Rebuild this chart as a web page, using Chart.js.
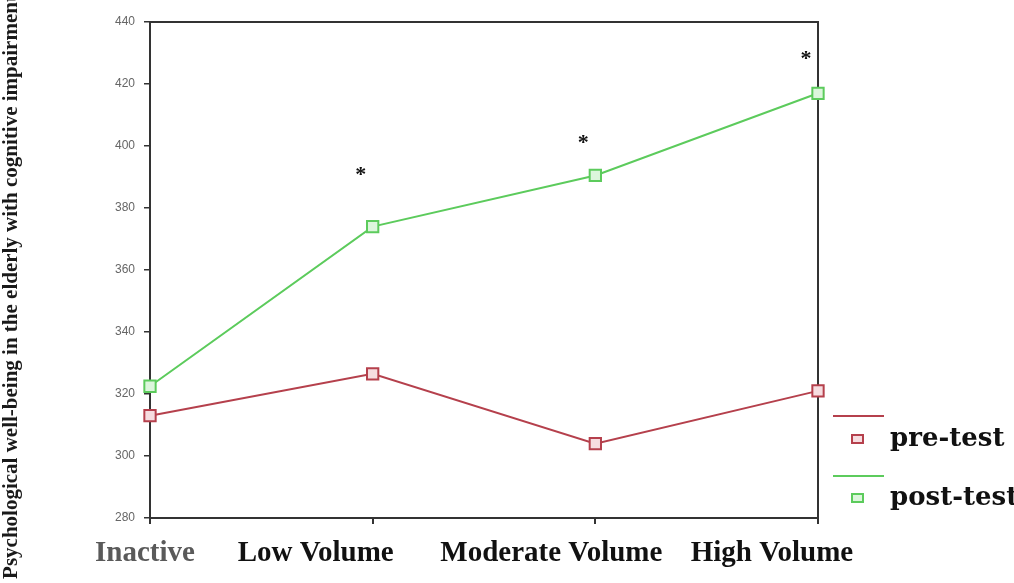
<!DOCTYPE html>
<html><head><meta charset="utf-8">
<script src="https://cdn.jsdelivr.net/npm/chart.js@4/dist/chart.umd.min.js"></script>
<style>
html,body{margin:0;padding:0;background:#fff;}
#wrap{position:relative;width:1014px;height:583px;overflow:hidden;background:#fff;}
canvas{position:absolute;left:0;top:0;}
</style></head><body>
<div id="wrap"><canvas id="c" width="1014" height="583"></canvas></div>
<script>
// ---- data ----
const categories = ['Inactive', 'Low Volume', 'Moderate Volume', 'High Volume'];
const preTest = [313, 326.5, 304, 321];
const postTest = [322.5, 374, 390.5, 417];
const yTickValues = [280, 300, 320, 340, 360, 380, 400, 420, 440];
const seriesNames = ['pre-test', 'post-test'];
const significanceMarks = ['', '*', '*', '*'];
const significanceLevel = [null, 392, 402.5, 429.5];
const yTitle = 'Psychological well-being in the elderly with cognitive impairment';

// ---- styling / layout constants ----
const RED = '#b5404c', RED_FILL = '#f6dde0';
const GREEN = '#5ccb5c', GREEN_FILL = '#dcf6dc';
const AXIS = '#333333';
const LABEL_DX = [-5, -57, -44, -46];
const LABEL_COLORS = ['#5a5a5a', '#111', '#111', '#111'];

const framePlugin = {
  id: 'frame',
  beforeDatasetsDraw(chart) {
    const {ctx, chartArea: a} = chart;
    ctx.save();
    ctx.strokeStyle = AXIS; ctx.lineWidth = 2;
    ctx.beginPath();
    ctx.moveTo(a.left, a.top); ctx.lineTo(a.right, a.top); ctx.lineTo(a.right, a.bottom);
    ctx.stroke();
    ctx.restore();
  }
};

const textPlugin = {
  id: 'texts',
  afterDraw(chart) {
    const {ctx} = chart;
    const xs = chart.scales.x, ys = chart.scales.y;
    ctx.save();
    // x category labels
    ctx.font = 'bold 29px "Liberation Serif"';
    ctx.textAlign = 'center'; ctx.textBaseline = 'middle';
    categories.forEach((c, i) => {
      ctx.fillStyle = LABEL_COLORS[i];
      ctx.fillText(c, xs.getPixelForValue(i) + LABEL_DX[i], 554);
    });
    // significance marks
    ctx.font = 'bold 22px "Liberation Serif"';
    ctx.fillStyle = '#111';
    significanceMarks.forEach((m, i) => {
      if (!m) return;
      ctx.fillText(m, xs.getPixelForValue(i) - 12, ys.getPixelForValue(significanceLevel[i]) + 5);
    });
    // y title
    ctx.translate(12, 287);
    ctx.rotate(-Math.PI / 2);
    ctx.font = 'bold 21px "Liberation Serif"';
    ctx.fillStyle = '#1a1a1a';
    ctx.fillText(yTitle, 0, 0);
    ctx.restore();

    // legend
    ctx.save();
    const items = [
      {name: seriesNames[0], color: RED, fill: RED_FILL, lineY: 416, markY: 439},
      {name: seriesNames[1], color: GREEN, fill: GREEN_FILL, lineY: 476, markY: 498}
    ];
    items.forEach(it => {
      ctx.strokeStyle = it.color; ctx.lineWidth = 2;
      ctx.beginPath(); ctx.moveTo(833, it.lineY); ctx.lineTo(884, it.lineY); ctx.stroke();
      ctx.fillStyle = it.fill;
      ctx.fillRect(852, it.markY - 4, 11, 8);
      ctx.strokeRect(852, it.markY - 4, 11, 8);
      ctx.fillStyle = '#111';
      ctx.font = 'bold 26px "DejaVu Serif"';
      ctx.textAlign = 'left'; ctx.textBaseline = 'middle';
      ctx.fillText(it.name, 890, it.markY);
    });
    ctx.restore();
  }
};

new Chart(document.getElementById('c'), {
  type: 'line',
  data: {
    labels: categories,
    datasets: [
      {label: seriesNames[0], data: preTest, borderColor: RED, backgroundColor: RED_FILL,
       pointBackgroundColor: RED_FILL, pointBorderColor: RED},
      {label: seriesNames[1], data: postTest, borderColor: GREEN, backgroundColor: GREEN_FILL,
       pointBackgroundColor: GREEN_FILL, pointBorderColor: GREEN}
    ]
  },
  options: {
    responsive: false, animation: false, devicePixelRatio: 1,
    layout: {padding: {left: 0, top: 22, right: 196, bottom: 0}},
    elements: {
      line: {borderWidth: 2, tension: 0},
      point: {pointStyle: 'rect', radius: 8, borderWidth: 2, hoverRadius: 8}
    },
    datasets: {line: {clip: false}},
    plugins: {legend: {display: false}, tooltip: {enabled: false}},
    scales: {
      x: {
        type: 'category', offset: false,
        grid: {drawOnChartArea: false, drawTicks: true, tickLength: 6, color: AXIS, lineWidth: 2},
        border: {display: true, color: AXIS, width: 2},
        ticks: {display: false},
        afterFit(s) { s.height = 65; }
      },
      y: {
        min: 280, max: 440,
        afterBuildTicks(s) { s.ticks = yTickValues.map(v => ({value: v})); },
        grid: {drawOnChartArea: false, drawTicks: true, tickLength: 6, color: AXIS, lineWidth: 1.5},
        border: {display: true, color: AXIS, width: 2},
        ticks: {padding: 9, color: '#666', font: {family: 'Arial, "Liberation Sans"', size: 12}},
        afterFit(s) { s.width = 150; }
      }
    }
  },
  plugins: [framePlugin, textPlugin]
});
</script>
</body></html>
